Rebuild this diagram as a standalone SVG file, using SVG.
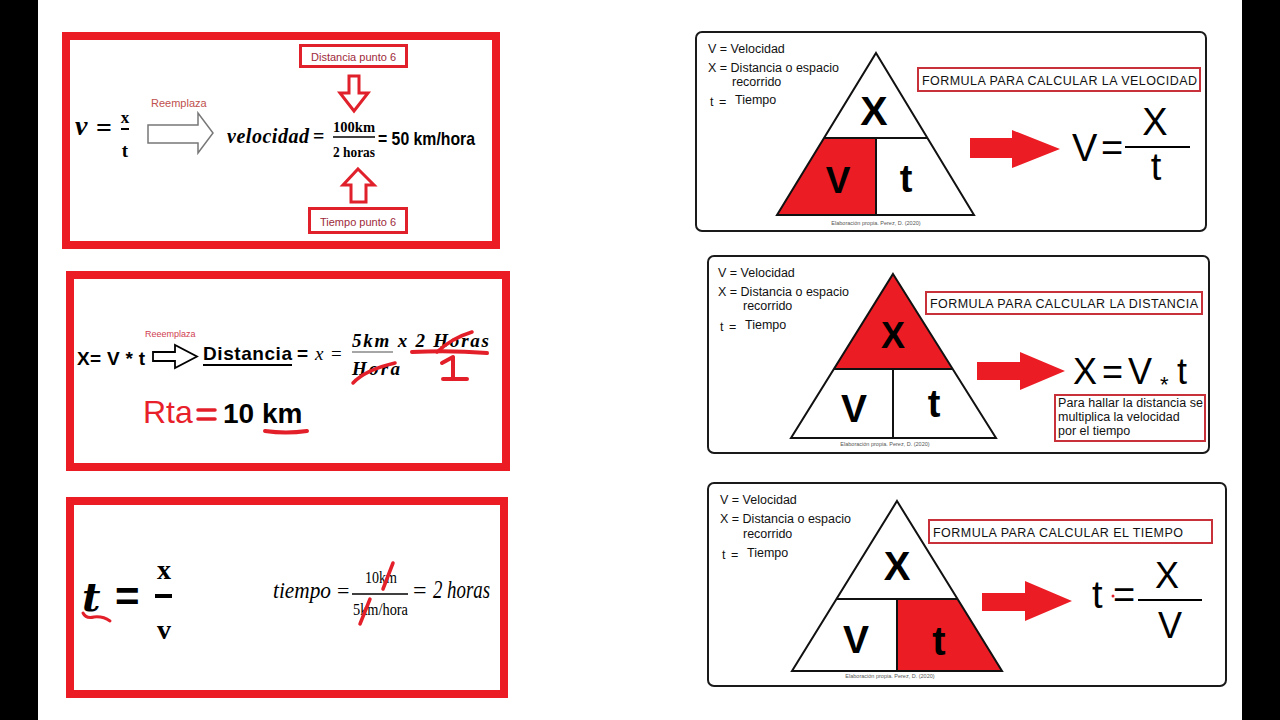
<svg xmlns="http://www.w3.org/2000/svg" width="1280" height="720" viewBox="0 0 1280 720">
<style>
.redframe{fill:#fff;stroke:#ec1c24;stroke-width:8}
.card{fill:#fff;stroke:#1a1a1a;stroke-width:2}
.sans{font-family:"Liberation Sans",Arial,sans-serif}
.serif{font-family:"Liberation Serif","Times New Roman",serif}
.leg{font-family:"Liberation Sans",Arial,sans-serif;font-size:12.5px;fill:#111}
.tri{stroke:#111;stroke-width:2;fill:none}
.big{font-family:"Liberation Sans",Arial,sans-serif;font-weight:bold;fill:#000;text-anchor:middle}
.credit{font-family:"Liberation Sans",Arial,sans-serif;font-size:5.5px;fill:#555;text-anchor:middle}
.fbox{fill:#fff;stroke:#c8303a;stroke-width:2}
.ftxt{font-family:"Liberation Sans",Arial,sans-serif;font-size:12.5px;fill:#111}
.redarrow{fill:#ec1c24}
.formula{font-family:"Liberation Sans",Arial,sans-serif;fill:#000}
.ink{stroke:#e3202a;fill:none;stroke-linecap:round;stroke-linejoin:round}
</style>
<rect x="0" y="0" width="1280" height="720" fill="#fff"/>
<rect x="0" y="0" width="38" height="720" fill="#000"/>
<rect x="1242" y="0" width="38" height="720" fill="#000"/>

<!-- Panel 1: velocidad -->
<g id="panel-velocidad">
<rect class="redframe" x="66" y="36" width="430" height="209"/>
<text class="serif" x="75" y="135" font-size="28" font-weight="bold" font-style="italic">v</text>
<text class="serif" x="96" y="137" font-size="28" font-weight="bold">=</text>
<text class="serif" x="125" y="123" font-size="17" font-weight="bold" text-anchor="middle">x</text>
<line x1="121" y1="129" x2="129" y2="129" stroke="#000" stroke-width="2"/>
<text class="serif" x="125" y="157" font-size="19" font-weight="bold" text-anchor="middle">t</text>
<text class="sans" x="151" y="107" font-size="11" fill="#c0504d">Reemplaza</text>
<polygon points="148,125 198,125 198,113 213,133 198,153 198,143 148,143" fill="#fff" stroke="#777" stroke-width="1.5"/>
<text class="serif" x="227" y="143" font-size="20" font-weight="bold" font-style="italic" textLength="82">velocidad</text>
<text class="serif" x="313" y="143" font-size="20" font-weight="bold">=</text>
<text class="serif" x="354" y="132" font-size="15" font-weight="bold" text-anchor="middle" textLength="42" lengthAdjust="spacingAndGlyphs">100km</text>
<line x1="333" y1="137" x2="375" y2="137" stroke="#000" stroke-width="1.5"/>
<text class="serif" x="354" y="157" font-size="15" font-weight="bold" text-anchor="middle" textLength="42" lengthAdjust="spacingAndGlyphs">2 horas</text>
<text class="sans" x="378" y="145" font-size="19" font-weight="bold" textLength="97" lengthAdjust="spacingAndGlyphs">= 50 km/hora</text>
<rect x="300.5" y="45.5" width="106" height="21" fill="#fff" stroke="#e0202a" stroke-width="3"/>
<text class="sans" x="353.5" y="61" font-size="11" fill="#9e2a3a" text-anchor="middle">Distancia punto 6</text>
<polygon points="349,76 359,76 359,93 368,93 354,111 340,93 349,93" fill="#fff" stroke="#e0202a" stroke-width="3"/>
<polygon points="358,169 374,185 366,185 366,202 351,202 351,185 343,185" fill="#fff" stroke="#e0202a" stroke-width="3"/>
<rect x="309.5" y="208.5" width="97" height="24" fill="#fff" stroke="#e0202a" stroke-width="3"/>
<text class="sans" x="358" y="226" font-size="11" fill="#9e2a3a" text-anchor="middle">Tiempo punto 6</text>
</g>

<!-- Panel 2: distancia -->
<g id="panel-distancia">
<rect class="redframe" x="70" y="275" width="436" height="192"/>
<text class="sans" x="145" y="337" font-size="9" fill="#d04050">Reeemplaza</text>
<text class="sans" x="77" y="365" font-size="19" font-weight="bold" textLength="68">X= V * t</text>
<polygon points="153,352 175,352 175,345 197,356.5 175,368 175,361 153,361" fill="#fff" stroke="#000" stroke-width="1.8"/>
<text class="sans" x="203" y="360" font-size="19" font-weight="bold" textLength="89">Distancia</text>
<line x1="203" y1="365" x2="292" y2="365" stroke="#000" stroke-width="2"/>
<text class="sans" x="297" y="360" font-size="19" font-weight="bold">=</text>
<text class="serif" x="315" y="360" font-size="19" font-style="italic">x</text>
<text class="serif" x="331" y="360" font-size="19">=</text>
<text class="serif" x="352" y="347" font-size="19" font-weight="bold" font-style="italic" textLength="137">5km x 2 Horas</text>
<line x1="352" y1="352" x2="393" y2="352" stroke="#888" stroke-width="1.5"/>
<text class="serif" x="352" y="375" font-size="19" font-weight="bold" font-style="italic" textLength="48">Hora</text>
<line x1="413" y1="352" x2="486" y2="352" stroke="#000" stroke-width="1.5"/>
<path class="ink" d="M412,352 Q450,350 487,353" stroke-width="4"/>
<path class="ink" d="M437,352 Q452,338 472,332" stroke-width="3.5"/>
<path class="ink" d="M442,363 L453,357 L453,379 M443,379 L467,379" stroke-width="4"/>
<path class="ink" d="M353,383 Q365,370 395,363" stroke-width="3.5"/>
<text class="sans" x="143" y="423" font-size="32" fill="#e8202a">Rta</text>
<path class="ink" d="M198,410 L215,410 M198,419 L215,419" stroke-width="3.5"/>
<text class="sans" x="223" y="423" font-size="28" font-weight="bold" fill="#000">10 km</text>
<path class="ink" d="M265,431 Q286,434 307,431" stroke-width="4"/>
</g>

<!-- Panel 3: tiempo -->
<g id="panel-tiempo">
<rect class="redframe" x="70" y="501" width="434" height="193"/>
<text x="82" y="611" font-family="'DejaVu Serif',serif" font-size="40" font-weight="bold" font-style="italic">t</text>
<path class="ink" d="M83,613 Q86,619 94,617 Q103,616 110,621" stroke-width="3"/>
<text class="sans" x="115" y="611" font-size="42" font-weight="bold">=</text>
<text class="serif" x="164" y="579" font-size="28" font-weight="bold" text-anchor="middle">x</text>
<line x1="155" y1="596" x2="172" y2="596" stroke="#000" stroke-width="4"/>
<text class="serif" x="164" y="639" font-size="28" font-weight="bold" text-anchor="middle">v</text>
<text class="serif" x="273" y="598" font-size="23" font-style="italic" textLength="58" lengthAdjust="spacingAndGlyphs">tiempo</text>
<text class="serif" x="337" y="598" font-size="22">=</text>
<text class="serif" x="381" y="583" font-size="16" text-anchor="middle" textLength="32" lengthAdjust="spacingAndGlyphs">10km</text>
<line x1="352" y1="594" x2="408" y2="594" stroke="#000" stroke-width="1.5"/>
<text class="serif" x="353" y="615" font-size="16" textLength="55" lengthAdjust="spacingAndGlyphs">5km/hora</text>
<path class="ink" d="M383,589 L393,563 M360,624 L370,599" stroke-width="3.5"/>
<text class="serif" x="413" y="598" font-size="24" textLength="14">=</text>
<text class="serif" x="433" y="598" font-size="26" font-style="italic" textLength="57" lengthAdjust="spacingAndGlyphs">2 horas</text>
</g>

<!-- Right card 1 -->
<g id="card-velocidad">
<rect class="card" x="696" y="32" width="510" height="199" rx="6"/>
<text class="leg" x="708" y="53">V = Velocidad</text>
<text class="leg" x="708" y="72">X = Distancia o espacio</text>
<text class="leg" x="732" y="86">recorrido</text>
<text class="leg" x="710" y="106">t</text><text class="leg" x="719" y="106">=</text><text class="leg" x="735" y="104">Tiempo</text>
<polygon points="824,138 876,138 876,215 777,215" fill="#ec1c24"/>
<polygon class="tri" points="876,53 974,215 777,215"/>
<line class="tri" x1="824" y1="138" x2="928" y2="138"/>
<line class="tri" x1="876" y1="138" x2="876" y2="215"/>
<text class="big" x="874" y="125" font-size="41">X</text>
<text class="big" x="838" y="193" font-size="37">V</text>
<text class="big" x="906" y="192" font-size="38">t</text>
<text class="credit" x="876" y="225">Elaboración propia. Perez, D. (2020)</text>
<polygon class="redarrow" points="970,138 1012,138 1012,130 1060,149 1012,168 1012,158 970,158"/>
<rect class="fbox" x="918" y="68" width="282" height="23"/>
<text class="ftxt" x="922" y="85" textLength="275">FORMULA PARA CALCULAR LA VELOCIDAD</text>
<text class="formula" x="1072" y="161" font-size="38">V</text>
<text class="formula" x="1101" y="161" font-size="38">=</text>
<line x1="1125" y1="147" x2="1190" y2="147" stroke="#000" stroke-width="2"/>
<text class="formula" x="1155" y="135" font-size="38" text-anchor="middle">X</text>
<text class="formula" x="1156" y="180" font-size="38" text-anchor="middle">t</text>
</g>

<!-- Right card 2 -->
<g id="card-distancia">
<rect class="card" x="708" y="256" width="501" height="197" rx="6"/>
<text class="leg" x="718" y="277">V = Velocidad</text>
<text class="leg" x="718" y="296">X = Distancia o espacio</text>
<text class="leg" x="743" y="310">recorrido</text>
<text class="leg" x="720" y="331">t</text><text class="leg" x="729" y="331">=</text><text class="leg" x="745" y="329">Tiempo</text>
<polygon points="893,274 952,369 834,369" fill="#ec1c24"/>
<polygon class="tri" points="893,274 996,438 791,438"/>
<line class="tri" x1="834" y1="369" x2="952" y2="369"/>
<line class="tri" x1="893" y1="369" x2="893" y2="438"/>
<text class="big" x="893" y="348" font-size="36">X</text>
<text class="big" x="854" y="422" font-size="39">V</text>
<text class="big" x="934" y="417" font-size="38">t</text>
<text class="credit" x="885" y="446">Elaboración propia. Perez, D. (2020)</text>
<polygon class="redarrow" points="977,362 1020,362 1020,352 1065,371 1020,390 1020,380 977,380"/>
<rect class="fbox" x="926" y="292" width="276" height="22"/>
<text class="ftxt" x="930" y="308" textLength="268">FORMULA PARA CALCULAR LA DISTANCIA</text>
<text class="formula" x="1073" y="384" font-size="36" textLength="79">X=V</text>
<text class="formula" x="1160" y="392" font-size="22">*</text>
<text class="formula" x="1177" y="384" font-size="36">t</text>
<rect class="fbox" x="1055" y="395" width="150" height="46"/>
<text class="ftxt" x="1058" y="407" textLength="145">Para hallar la distancia se</text>
<text class="ftxt" x="1058" y="421">multiplica la velocidad</text>
<text class="ftxt" x="1058" y="435">por el tiempo</text>
</g>

<!-- Right card 3 -->
<g id="card-tiempo">
<rect class="card" x="708" y="483" width="518" height="203" rx="6"/>
<text class="leg" x="720" y="504">V = Velocidad</text>
<text class="leg" x="720" y="523">X = Distancia o espacio</text>
<text class="leg" x="743" y="538">recorrido</text>
<text class="leg" x="722" y="559">t</text><text class="leg" x="731" y="559">=</text><text class="leg" x="747" y="557">Tiempo</text>
<polygon points="897,599 957.5,599 1002,671 897,671" fill="#ec1c24"/>
<polygon class="tri" points="897,501 1002,671 792,671"/>
<line class="tri" x1="836.5" y1="599" x2="957.5" y2="599"/>
<line class="tri" x1="897" y1="599" x2="897" y2="671"/>
<text class="big" x="897" y="580" font-size="40">X</text>
<text class="big" x="856" y="653" font-size="39">V</text>
<text class="big" x="939" y="655" font-size="40">t</text>
<text class="credit" x="890" y="678">Elaboración propia. Perez, D. (2020)</text>
<polygon class="redarrow" points="982,593 1025,593 1025,581 1072,601 1025,621 1025,611 982,611"/>
<rect class="fbox" x="929" y="520" width="283" height="23"/>
<text class="ftxt" x="933" y="537" textLength="250">FORMULA PARA CALCULAR EL TIEMPO</text>
<text class="formula" x="1092" y="608" font-size="38">t</text>
<circle cx="1113" cy="596" r="1.5" fill="#e3202a"/>
<text class="formula" x="1113" y="608" font-size="38">=</text>
<line x1="1138" y1="600" x2="1202" y2="600" stroke="#000" stroke-width="2"/>
<text class="formula" x="1167" y="588" font-size="36" text-anchor="middle">X</text>
<text class="formula" x="1170" y="638" font-size="36" text-anchor="middle">V</text>
</g>
</svg>
